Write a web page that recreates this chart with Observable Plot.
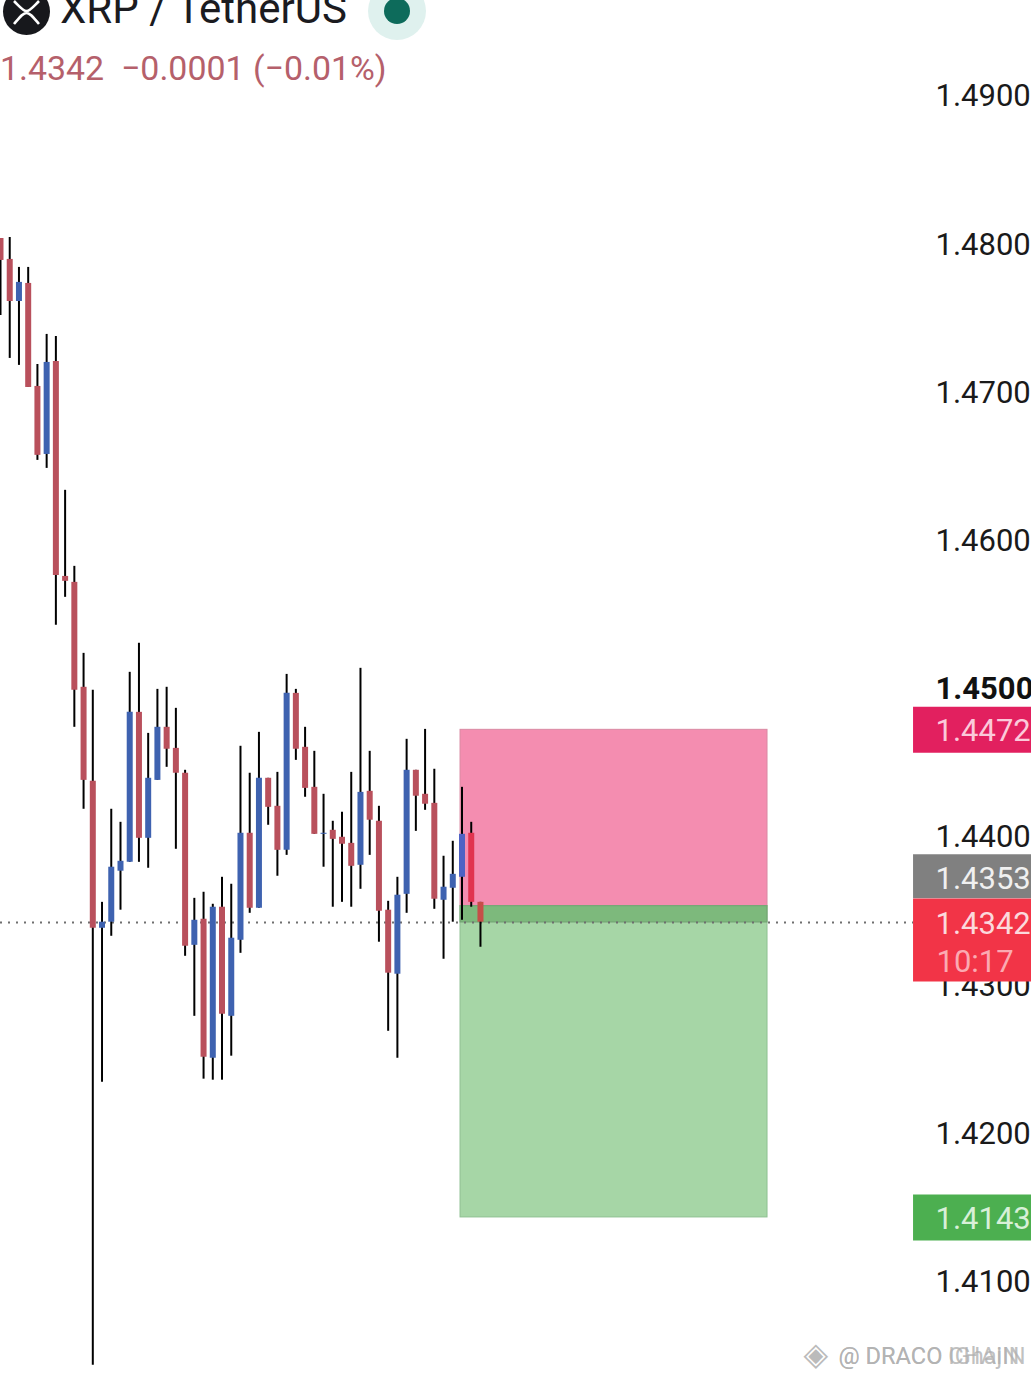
<!DOCTYPE html>
<html>
<head>
<meta charset="utf-8">
<script src="https://cdn.jsdelivr.net/npm/d3@7"></script>
<script src="https://cdn.jsdelivr.net/npm/@observablehq/plot@0.6"></script>
<style>
html,body{margin:0;padding:0;background:#fff;overflow:hidden}
#page{position:relative;width:1031px;height:1381px;overflow:hidden;font-family:Roboto,sans-serif}
#page svg.plot-root{display:block}
#title{position:absolute;left:60px;top:-19px;font-size:42px;line-height:56px;color:#1b1b1f;white-space:nowrap}
#quote{position:absolute;left:0;top:47px;font-size:33.9px;line-height:44px;color:#b5606b;white-space:pre}
#logo{position:absolute;left:0;top:0}
</style>
</head>
<body>
<div id="page">
<div id="chart"></div>
<svg id="logo" width="440" height="50" viewBox="0 0 440 50">
  <circle cx="26.5" cy="11.5" r="23.5" fill="#17181c"/>
  <path d="M14 1 C20 7 23 11 26.5 11 C30 11 33 7 39 1 M14 24 C20 17 23 13 26.5 13 C30 13 33 17 39 24" fill="none" stroke="#fff" stroke-width="2.6"/>
  <circle cx="397" cy="11" r="29" fill="#dff1ee"/>
  <circle cx="397" cy="11" r="13" fill="#0d6b5b"/>
</svg>
<div id="title">XRP / TetherUS</div>
<div id="quote">1.4342  −0.0001 (−0.01%)</div>
</div>
<script>
const opens = [1.48035,1.47894,1.47610,1.47732,1.47037,1.46578,1.47206,1.45755,1.45715,1.45007,1.44373,1.43381,1.43422,1.43766,1.43826,1.44838,1.43988,1.44379,1.44737,1.44595,1.44427,1.43266,1.43442,1.42504,1.43523,1.42787,1.43300,1.44022,1.43516,1.44393,1.44204,1.43907,1.44966,1.44602,1.44332,1.44015,1.44042,1.43995,1.43954,1.43806,1.44305,1.44103,1.43503,1.43071,1.43610,1.44447,1.44285,1.44224,1.43570,1.43651,1.43725,1.44022,1.43556];
const closes = [1.47887,1.47610,1.47739,1.47030,1.46572,1.47199,1.45762,1.45722,1.44987,1.44379,1.43381,1.43422,1.43793,1.43833,1.44838,1.43988,1.44393,1.44737,1.44589,1.44427,1.43260,1.43435,1.42511,1.43523,1.42801,1.43314,1.44022,1.43516,1.44393,1.44197,1.43907,1.44966,1.44589,1.44325,1.44015,1.44022,1.43981,1.43948,1.43799,1.44298,1.44110,1.43496,1.43078,1.43604,1.44447,1.44272,1.44218,1.43577,1.43658,1.43745,1.44015,1.43556,1.43422];
const highs = [1.48035,1.48042,1.47840,1.47840,1.47185,1.47388,1.47374,1.46336,1.45823,1.45236,1.44987,1.43556,1.44184,1.44096,1.45108,1.45304,1.44696,1.44993,1.45007,1.44865,1.44447,1.43583,1.43624,1.43543,1.43725,1.43678,1.44609,1.44427,1.44703,1.44393,1.44433,1.45094,1.44993,1.44737,1.44575,1.44285,1.44103,1.44164,1.44433,1.45135,1.44575,1.44204,1.43563,1.43725,1.44656,1.44447,1.44723,1.44454,1.43867,1.43968,1.44332,1.44096,1.43556];
const lows = [1.47516,1.47226,1.47179,1.47030,1.46538,1.46484,1.45425,1.45614,1.44737,1.44184,1.40433,1.42342,1.43327,1.43503,1.43826,1.43826,1.43786,1.44379,1.44467,1.43914,1.43192,1.42787,1.42363,1.42356,1.42356,1.42518,1.43212,1.43482,1.43516,1.44076,1.43732,1.43873,1.44514,1.44265,1.44015,1.43793,1.43523,1.43556,1.43523,1.43644,1.43873,1.43287,1.42686,1.42504,1.43482,1.44035,1.44177,1.43509,1.43172,1.43422,1.43435,1.43523,1.43253];

const upColor = "#3e62b0";
const downColor = "#b9505c";
const lastCandleColors = {50: "#4f62c4", 51: "#e1344f", 52: "#c64e48"};

const tickPrices = [1.49,1.48,1.47,1.46,1.44,1.43,1.42,1.41];
const boldTicks = [1.45];
const stopPrice = 1.4472, entryPrice = 1.4353, targetPrice = 1.4143, lastPrice = 1.4342;
const boxStart = 49.84, boxEnd = 83.1, tagStart = 98.92, lastBar = 111.7;
const countdown = "10:17";
const watermarks = ["@ DRACO CHAIN", "@ DRACO IGhajIN"];

const candles = opens.map((o,i)=>({i,o,c:closes[i],h:highs[i],l:lows[i],
  color: lastCandleColors[i] || (closes[i] >= o ? upColor : downColor)}));

const tickFont = 31;
const tag = (price, color, dy, h) => Plot.ruleY([price],{x1:tagStart,x2:lastBar,stroke:color,strokeWidth:h,dy});
const tagText = (price, dy, fill) => Plot.text([price],{y:d=>d,text:d=>d.toFixed(4),frameAnchor:"left",dx:935,dy,textAnchor:"start",fontSize:tickFont,fill});

const chart = Plot.plot({
  width:1031,height:1381,margin:0,
  style:{background:"#fff",fontFamily:"Roboto, sans-serif",overflow:"hidden"},
  x:{axis:null,domain:[0,lastBar],range:[0,1031]},
  y:{axis:null,domain:[1.40323,1.49641],range:[1381,0]},
  marks:[
    Plot.rect([0],{x1:boxStart,x2:boxEnd,y1:entryPrice,y2:stopPrice,fill:"#f48db0",stroke:"#d98aa3",strokeWidth:1}),
    Plot.rect([0],{x1:boxStart,x2:boxEnd,y1:targetPrice,y2:entryPrice,fill:"#a6d6a6",stroke:"#8fc092",strokeWidth:1}),
    Plot.rect([0],{x1:boxStart,x2:boxEnd,y1:lastPrice,y2:entryPrice,fill:"#7db97c",stroke:"#72a172",strokeWidth:1}),
    Plot.ruleY([lastPrice],{x1:0,x2:tagStart,stroke:"#6f6f6f",strokeWidth:2,strokeDasharray:"2,6"}),
    Plot.ruleX(candles,{x:"i",y1:"l",y2:"h",stroke:"#000",strokeWidth:2}),
    Plot.ruleX(candles,{x:"i",y1:"o",y2:"c",stroke:"color",strokeWidth:6}),
    Plot.text(tickPrices,{y:d=>d,text:d=>d.toFixed(4),frameAnchor:"left",dx:935,dy:1,textAnchor:"start",fontSize:tickFont,fill:"#1a1a1a"}),
    Plot.text(boldTicks,{y:d=>d,text:d=>d.toFixed(4),frameAnchor:"left",dx:935,dy:1,textAnchor:"start",fontSize:tickFont,fontWeight:700,fill:"#111"}),
    tag(stopPrice,"#e2205f",0,46),
    tag(entryPrice,"#808080",-30,44),
    tag(lastPrice,"#f23447",17.5,83),
    tag(targetPrice,"#4caf50",0,46),
    tagText(stopPrice,1,"#fbc9da"),
    tagText(entryPrice,-27,"#f0f0f0"),
    tagText(lastPrice,2,"#fbd9dc"),
    Plot.text([countdown],{y:[lastPrice],text:d=>d,frameAnchor:"left",dx:936,dy:40,textAnchor:"start",fontSize:tickFont,fill:"#fbaab2"}),
    tagText(targetPrice,2,"#d8f0d8"),
    Plot.text(["◈"],{frameAnchor:"bottom-left",dx:803,dy:-17,textAnchor:"start",fontSize:32,fill:"#bbb",fontFamily:"DejaVu Sans"}),
    Plot.text(watermarks,{frameAnchor:"bottom-left",dx:838,dy:-18,textAnchor:"start",fontSize:23.6,fill:"#b0b0b0",fillOpacity:0.8})
  ]
});
document.getElementById("chart").appendChild(chart);
</script>
</body>
</html>
